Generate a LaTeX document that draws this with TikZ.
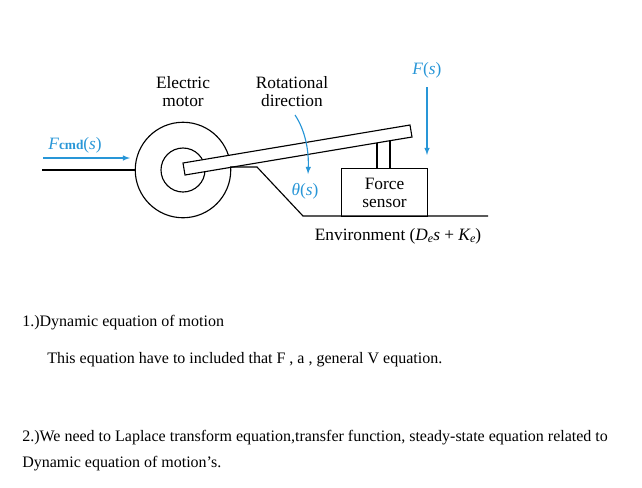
\documentclass[tikz,border=0pt]{standalone}
\usepackage{fontspec}
\setmainfont{Liberation Serif}
\begin{document}
\begin{tikzpicture}[x=0.75pt,y=-0.75pt,
  ln/.style={line width=0.85pt},
  lab/.style={font=\rmfamily\fontsize{13}{13.5}\selectfont,align=center,inner sep=0pt},
  txt/.style={font=\rmfamily\fontsize{12}{14}\selectfont,anchor=west,inner sep=0pt}]
\useasboundingbox (0,0) rectangle (642,487);
\definecolor{bcol}{RGB}{40,150,215}
\tikzset{bl/.style={draw=bcol,line width=0.85pt,-latex}}
% motor
\node[circle,draw,line width=0.85pt,minimum size=95.5*0.75pt,inner sep=0pt] (outer) at (183,170) {};
\node[circle,draw,line width=0.85pt,minimum size=44*0.75pt,inner sep=0pt] (inner) at (183,170) {};
\coordinate (l0) at (42,170);
\draw[ln] (l0) -- (outer.west);
% lever
\draw[ln,fill=white] (183,163) -- (410,125) -- (412,137) -- (185,175) -- cycle;
% ground
\draw[ln] (230,167) -- (257,167) -- (303,216) -- (488,216);
% sensor
\node[draw,line width=0.85pt,minimum width=86*0.75pt,minimum height=48*0.75pt,lab,anchor=north west] (fs) at (341,168) {Force\\sensor};
\draw[ln] (377,143) -- (377,168) (390,141) -- (390,168);
% arrows
\coordinate (fa) at (43,158); \coordinate (fb) at (130,158);
\draw[bl] (fa) -- (fb);
\node[lab,text=bcol] (fcmd) at (75,145) {\textit{F}{\fontsize{10}{10}\selectfont\textbf{cmd}}(\textit{s})};
\coordinate (Fa) at (427,87); \coordinate (Fb) at (427,155);
\draw[bl] (Fa) -- (Fb);
\node[lab,text=bcol] (Fs) at (427,70) {\textit{F}(\textit{s})};
\coordinate (ra) at (295,115); \coordinate (rb) at (308,174);
\draw[bl] (ra) .. controls (305,130) and (309,150) .. (rb);
\node[lab,text=bcol] (th) at (305,191) {\textit{θ}(\textit{s})};
\node[lab] (em) at (183,92) {Electric\\motor};
\node[lab] (rd) at (292,92) {Rotational\\direction};
\node[lab] (env) at (398,236) {Environment (\textit{D\raisebox{-2pt}{\fontsize{9}{9}\selectfont e}s} + \textit{K\raisebox{-2pt}{\fontsize{9}{9}\selectfont e}})};
% text
\node[txt] at (22,323) {1.)Dynamic equation of motion};
\node[txt] at (47,360) {This equation have to included that F , a , general V equation.};
\node[txt] at (22,438) {2.)We need to Laplace transform equation,transfer function, steady-state equation related to};
\node[txt] at (22,464) {Dynamic equation of motion's.};
\end{tikzpicture}
\end{document}
